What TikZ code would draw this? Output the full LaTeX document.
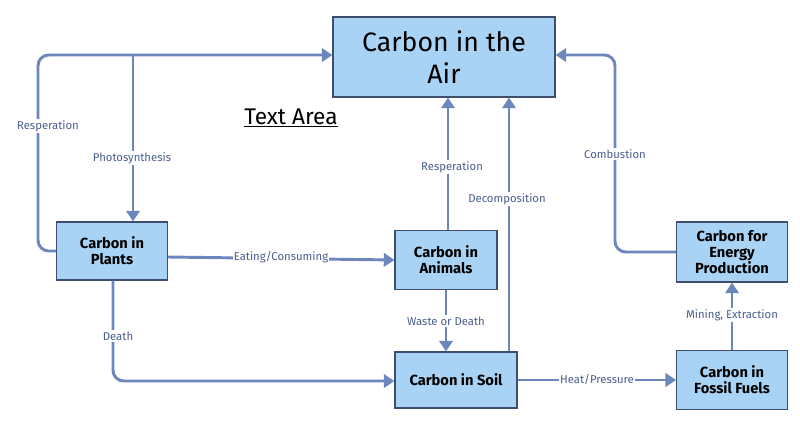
\documentclass[tikz,border=0pt]{standalone}
\usepackage{fontspec}
\setmainfont{Fira Sans}
\usetikzlibrary{arrows.meta}
\definecolor{boxfill}{HTML}{A9D3F5}
\definecolor{boxline}{HTML}{3E4F6E}
\definecolor{arr}{HTML}{6C86BE}
\definecolor{lbl}{HTML}{4A5E8E}
\begin{document}
\begin{tikzpicture}[x=0.75pt,y=-0.75pt,
  box/.style={draw=boxline,line width=0.8pt,fill=boxfill,align=center,font=\bfseries\fontsize{11}{12}\selectfont,inner sep=0pt},
  conn/.style={draw=arr,line width=2.2pt,rounded corners=8pt,-{Triangle[length=8pt,width=10pt]}},
  lab/.style={fill=white,text=lbl,font=\fontsize{8.5}{10}\selectfont,inner sep=1pt}]
\useasboundingbox (0,0) rectangle (800,425);
\node[box,minimum width=166.5pt,minimum height=60pt,font=\fontsize{20}{24}\selectfont] (air) at (444,57) {Carbon in the\\Air};
\node[box,minimum width=83pt,minimum height=43.5pt] (plants) at (112,251) {Carbon in\\Plants};
\node[box,minimum width=76.5pt,minimum height=44pt] (animals) at (446,260) {Carbon in\\Animals};
\node[box,minimum width=91.5pt,minimum height=42pt] (soil) at (456,380) {Carbon in Soil};
\node[box,minimum width=83pt,minimum height=45pt] (energy) at (732,252) {Carbon for\\Energy\\Production};
\node[box,minimum width=83pt,minimum height=44pt] (fossil) at (732,380) {Carbon in\\Fossil Fuels};
\node[font=\fontsize{17}{20}\selectfont] (ta) at (291,118) {\underline{Text Area}};
\coordinate (pt) at (133,55);
\draw[conn] (plants.west) -- (38,251) -- (38,55) -- (air.west |- 0,55);
\draw[conn] (pt) -- (plants.north -| pt);
\draw[conn] (plants.east |- 0,257) -- (animals.west |- 0,260);
\draw[conn] (animals.north -| 448,0) -- (air.south -| 448,0);
\draw[conn] (soil.north -| 509,0) -- (air.south -| 509,0);
\draw[conn] (energy.west) -- (615,252) -- (615,55) -- (air.east |- 0,55);
\draw[conn] (plants.south -| 113,0) -- (113,381) -- (soil.west |- 0,381);
\draw[conn] (animals.south) -- (soil.north -| animals.south);
\draw[conn] (soil.east) -- (fossil.west);
\draw[conn] (fossil.north) -- (energy.south);
\node[lab] (l1) at (48,126) {Resperation};
\node[lab] (l2) at (132,158) {Photosynthesis};
\node[lab] (l3) at (281,257) {Eating/Consuming};
\node[lab] (l4) at (452,167) {Resperation};
\node[lab] (l5) at (507,199) {Decomposition};
\node[lab] (l6) at (615,154) {Combustion};
\node[lab] (l7) at (118,336) {Death};
\node[lab] (l8) at (446,321) {Waste or Death};
\node[lab] (l9) at (597,380) {Heat/Pressure};
\node[lab] (l10) at (732,315) {Mining, Extraction};
\end{tikzpicture}
\end{document}
